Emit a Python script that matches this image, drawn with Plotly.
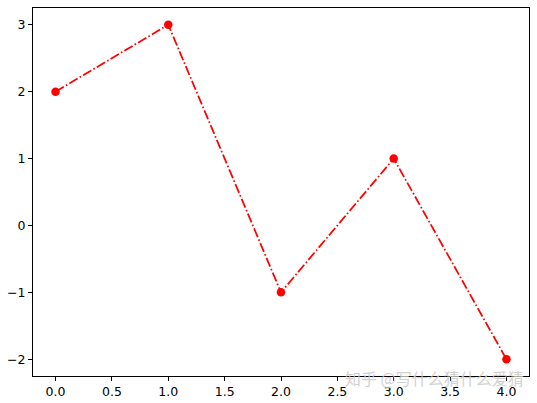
import plotly.graph_objects as go

x_vals = [0, 1, 2, 3, 4]
y_vals = [2, 3, -1, 1, -2]
x_ticks = [0.0, 0.5, 1.0, 1.5, 2.0, 2.5, 3.0, 3.5, 4.0]
x_tick_labels = ["0.0", "0.5", "1.0", "1.5", "2.0", "2.5", "3.0", "3.5", "4.0"]
y_ticks = [-2, -1, 0, 1, 2, 3]
y_tick_labels = ["\u22122", "\u22121", "0", "1", "2", "3"]
watermark = "知乎 @写什么猜什么爱猜"

fig = go.Figure()
fig.add_trace(go.Scatter(
    x=x_vals, y=y_vals, mode="lines+markers",
    line=dict(color="#ff0000", width=1.75, dash="9.6px,2.4px,1.6px,2.4px"),
    marker=dict(color="#ff0000", size=8.5, symbol="circle"),
    showlegend=False,
))

axis_common = dict(
    showgrid=False, zeroline=False, showline=True, linecolor="black", linewidth=1,
    mirror=True, ticks="outside", ticklen=4, tickwidth=1, tickcolor="black",
    tickfont=dict(family="DejaVu Sans", size=12.5, color="black"),
    automargin=False,
)
fig.update_xaxes(range=[-0.2, 4.2], tickvals=x_ticks, ticktext=x_tick_labels, **axis_common)
fig.update_yaxes(range=[-2.25, 3.25], tickvals=y_ticks, ticktext=y_tick_labels, **axis_common)

fig.add_annotation(
    text=watermark, xref="paper", yref="paper", x=0.81, y=-0.006, xanchor="center", yanchor="middle",
    showarrow=False, font=dict(family="Noto Sans CJK SC", size=16, color="rgba(200,200,200,0.85)"),
)

fig.update_layout(
    width=537, height=403,
    margin=dict(l=33, r=8, t=8, b=27, autoexpand=False),
    paper_bgcolor="white", plot_bgcolor="white",
)
fig.write_html(
    "out.html",
    config={"displayModeBar": False},
    post_script="document.body.style.margin='0';document.body.style.overflow='hidden';",
)
